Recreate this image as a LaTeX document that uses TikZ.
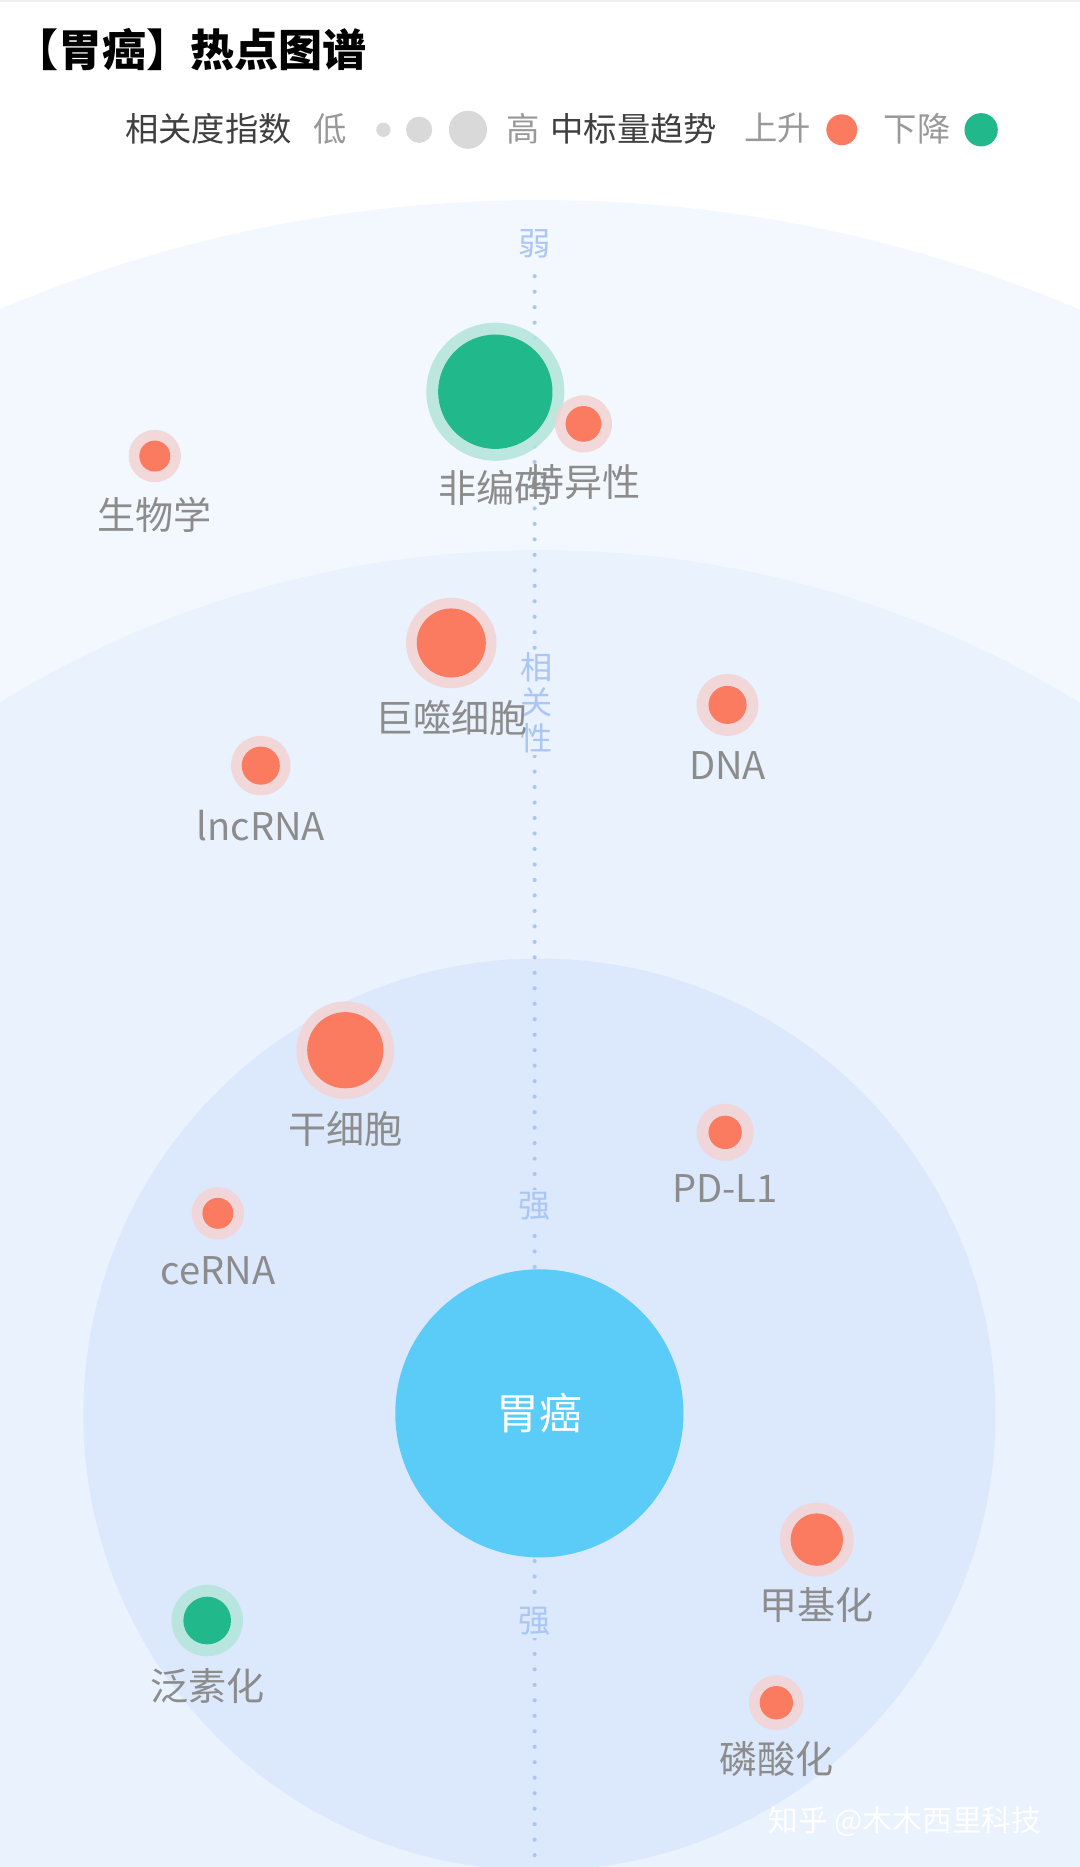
\documentclass[tikz,border=0pt]{standalone}
\usepackage{fontspec}
\setmainfont{Noto Sans CJK SC}
\begin{document}
\begin{tikzpicture}[x=1pt,y=-1pt,
  lab/.style={text=black!45,font=\fontsize{32}{33}\selectfont,inner sep=0},
  leg/.style={font=\fontsize{28}{30}\selectfont,inner sep=0,anchor=west},
  axl/.style={font=\fontsize{27}{29}\selectfont,inner sep=0,text=axc},
]
\definecolor{orng}{HTML}{FA7B5F}
\definecolor{orhalo}{HTML}{F4D3D3}
\definecolor{grn}{HTML}{21B98C}
\definecolor{grhalo}{HTML}{B3E5DA}
\definecolor{axc}{HTML}{A9C6F4}
\definecolor{b1}{HTML}{F3F8FE}
\definecolor{b2}{HTML}{EAF2FE}
\definecolor{b3}{HTML}{DCE8FC}
\definecolor{core}{HTML}{5BCBF8}
\clip (0,0) rectangle (907,1568);
\fill[white] (0,0) rectangle (907,1568);
\fill[b1] (453,1329) circle (1161);
\fill[b2] (453,1328) circle (866);
\fill[b3] (453,1188) circle (383);
\draw[black!6,line width=1.5] (0,1)--(907,1);
% axis
\draw[axc,line width=3.5,line cap=round,dash pattern=on 0pt off 13pt] (449,232)--(449,1568);
\node[axl] (wk) at (449,205) {弱};
\node[axl,align=center,font=\fontsize{27}{30}\selectfont,fill=b2,inner sep=2] (xg) at (451,590) {相\\关\\性};
\node[axl,fill=b3,inner sep=2] (q1) at (449,1013) {强};
\node[axl,fill=b3,inner sep=2] (q2) at (449,1362) {强};
% title & legend
\node[anchor=west,inner sep=0,font=\bfseries\fontsize{37}{38}\selectfont] (title) at (12,42) {【胃癌】热点图谱};
\node[leg,text=black!75] (l1) at (105,108) {相关度指数};
\node[leg,text=black!40] (l2) at (263,108) {低};
\fill[black!15] (322,109) circle (6);
\fill[black!15] (352,109) circle (11);
\fill[black!15] (393,109) circle (16);
\node[leg,text=black!40] (l3) at (425,108) {高};
\node[leg,text=black!75] (l4) at (462,108) {中标量趋势};
\node[leg,text=black!40] (l5) at (625,108) {上升};
\fill[orng] (707,109) circle (13);
\node[leg,text=black!40] (l6) at (742,108) {下降};
\fill[grn] (824,109) circle (14);
% nodes
\newcommand\odotx[4]{%
  \fill[orhalo,opacity=0.85] (#1,#2) circle (#4);
  \fill[orng] (#1,#2) circle (#3);
}
\newcommand\gdotx[4]{%
  \fill[grhalo,opacity=0.85] (#1,#2) circle (#4);
  \fill[grn] (#1,#2) circle (#3);
}
\gdotx{416}{329}{48}{58}
\node[lab] (n1) at (416,410) {非编码};
\odotx{490}{356}{15}{24}
\node[lab] (n2) at (490,405) {特异性};
\odotx{130}{383}{13}{22}
\node[lab] (n3) at (130,432) {生物学};
\odotx{379}{540}{29}{38}
\node[lab] (n4) at (379,603) {巨噬细胞};
\odotx{611}{592}{16}{26}
\node[lab] (n5) at (611,643) {DNA};
\odotx{219}{643}{16}{25}
\node[lab] (n6) at (219,693) {lncRNA};
\odotx{290}{882}{32}{41}
\node[lab] (n7) at (290,948) {干细胞};
\odotx{609}{951}{14}{24}
\node[lab] (n8) at (609,998) {PD-L1};
\odotx{183}{1019}{13}{22}
\node[lab] (n9) at (183,1067) {ceRNA};
\fill[core] (453,1187) circle (121);
\node[text=white,font=\fontsize{36}{38}\selectfont,inner sep=0] (wa) at (453,1187) {胃癌};
\odotx{686}{1293}{22}{31}
\node[lab] (n10) at (686,1348) {甲基化};
\gdotx{174}{1361}{20}{30}
\node[lab] (n11) at (174,1416) {泛素化};
\odotx{652}{1430}{14}{23}
\node[lab] (n12) at (652,1477) {磷酸化};
\node[text=white,font=\fontsize{25}{27}\selectfont,inner sep=0] (wm) at (760,1530) {知乎 @木木西里科技};
\end{tikzpicture}
\end{document}
